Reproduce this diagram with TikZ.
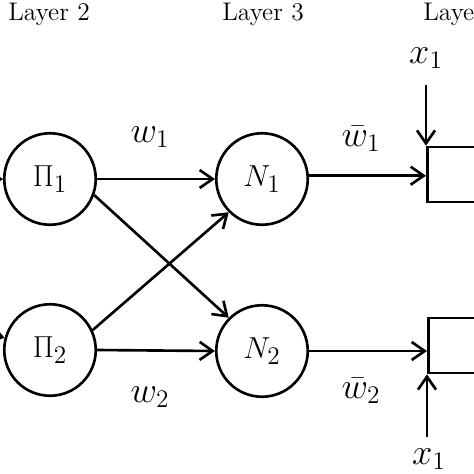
\documentclass[tikz,border=0pt]{standalone}
\usetikzlibrary{arrows.meta}
\begin{document}
\begin{tikzpicture}[x=0.02cm,y=-0.02cm,
  neuron/.style={circle,draw,line width=1.5pt,minimum size=1.83cm,inner sep=0pt,font=\fontsize{19}{22}\selectfont},
  boxnode/.style={draw,line width=1.5pt,minimum width=1.6cm,minimum height=1.1cm,inner sep=0pt,anchor=west},
  arr/.style={line width=1.5pt,-{Straight Barb[length=2.6mm,width=3.6mm]}},
  lbl/.style={font=\fontsize{20}{23}\selectfont},
  layer/.style={font=\fontsize{14.5}{17}\selectfont,inner sep=0pt,anchor=base west}]
\useasboundingbox (0,0) rectangle (474,474);
\clip (0,0) rectangle (474,474);
\node[layer] (L2) at (8,20) {Layer 2};
\node[layer] (L3) at (222,20) {Layer 3};
\node[layer] (L4) at (423,20) {Layer 4};
\node[neuron] (P1) at (50,179) {$\Pi_1$};
\node[neuron] (P2) at (50,350) {$\Pi_2$};
\node[neuron] (N1) at (262,179) {$N_1$};
\node[neuron] (N2) at (262,351) {$N_2$};
\node[boxnode] (B1) at (426,174.5) {};
\node[boxnode] (B2) at (427,345.5) {};
\node[lbl] (w1) at (150,137) {$w_1$};
\node[lbl] (w2) at (150,397) {$w_2$};
\node[lbl] (wb1) at (361,139) {$\bar{w}_1$};
\node[lbl] (wb2) at (361,391) {$\bar{w}_2$};
\node[lbl] (x1a) at (426,58) {$x_1$};
\node[lbl] (x1b) at (429,459) {$x_1$};
\coordinate (t1) at (426,85);
\coordinate (t2) at (427,437);
\coordinate (in1) at (-60,181);
\coordinate (in2) at (-60,320);
\draw[arr] (in1) -- (P1.west);
\draw[arr] (in2) -- (P2.165);
\draw[arr] (P1.east) -- (N1.west);
\draw[arr] (P2.east) -- (N2.west);
\draw[arr] (P1.-20) -- (N2.135);
\draw[arr] (P2.25) -- (N1.225);
\draw[arr] (N1.4) -- (N1.4 -| B1.west);
\draw[arr] (N2.east) -- (N2.east -| B2.west);
\draw[arr] (t1) -- (B1.north west);
\draw[arr] (t2) -- (B2.south west);
\end{tikzpicture}
\end{document}
